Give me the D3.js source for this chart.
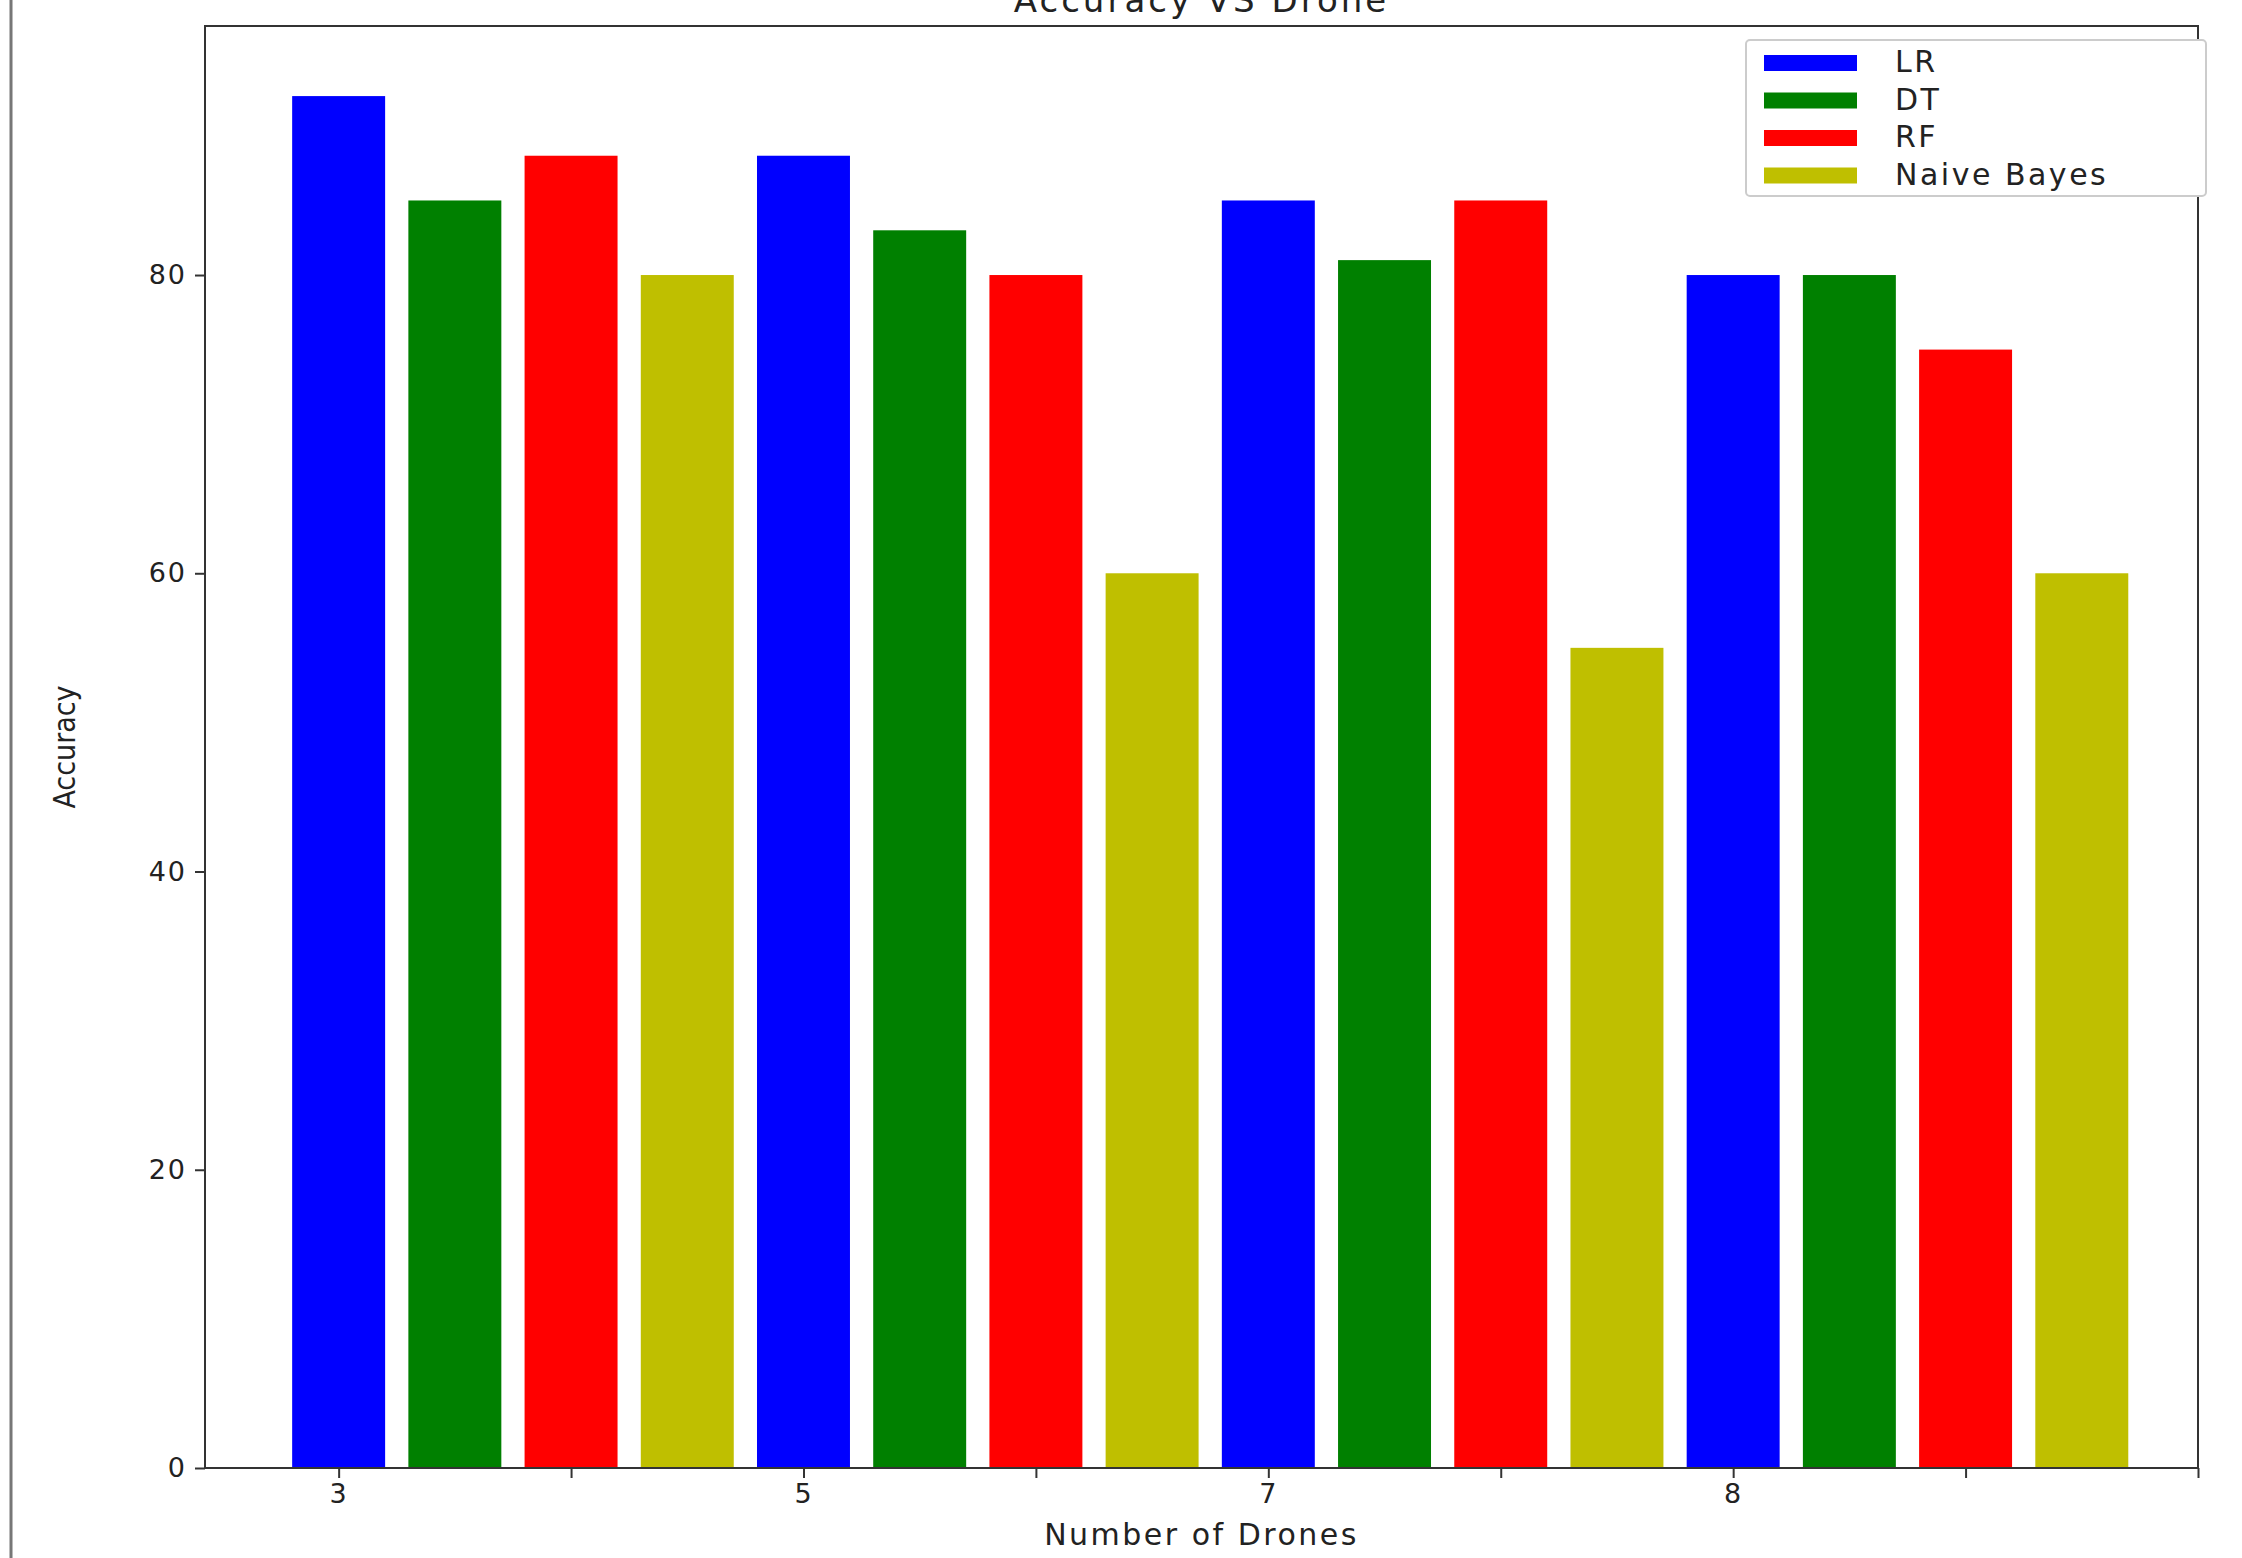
<!DOCTYPE html>
<html><head><meta charset="utf-8">
<script src="https://cdn.jsdelivr.net/npm/d3@7"></script>
<style>body{margin:0;background:#fff}text{font-family:"DejaVu Sans",sans-serif;fill:#222}</style>
</head><body><div id="chart"></div>
<script>
var tickLabels = ["3", "", "5", "", "7", "", "8", "", ""];
var seriesNames = ["LR", "DT", "RF", "Naive Bayes"];
var seriesColors = ["#0000ff", "#008000", "#ff0000", "#bfbf00"];
// one bar per slot, in drawing order LR, DT, RF, NB for each drone count
var barValues = [92, 85, 88, 80, 88, 83, 80, 60, 85, 81, 85, 55, 80, 80, 75, 60];

var svgWidth = 2242, svgHeight = 1558;
var margin = {top: 26, right: 44, bottom: 90, left: 205};
var width = svgWidth - margin.left - margin.right;
var height = svgHeight - margin.top - margin.bottom;

var svg = d3.select("#chart").append("svg")
  .attr("width", svgWidth).attr("height", svgHeight);

// figure frame on the left
svg.append("line").attr("x1", 11).attr("x2", 11).attr("y1", 0).attr("y2", svgHeight)
  .attr("stroke", "#777").attr("stroke-width", 3);

var chartGroup = svg.append("g")
  .attr("transform", `translate(${margin.left}, ${margin.top})`);

var x = d3.scaleLinear().domain([-1.15, 16]).range([0, width]);
var y = d3.scaleLinear().domain([0, 96.7]).range([height, 0]);

chartGroup.selectAll("rect.bar").data(barValues).enter().append("rect")
  .attr("class", "bar")
  .attr("x", (d, i) => x(i - 0.4))
  .attr("width", x(0.8) - x(0))
  .attr("y", d => y(d))
  .attr("height", d => height - y(d))
  .attr("fill", (d, i) => seriesColors[i % 4]);

var xAxis = d3.axisBottom(x).tickValues(d3.range(0, 17, 2))
  .tickFormat((d, i) => tickLabels[i]).tickSize(10).tickPadding(6);
var gx = chartGroup.append("g").attr("transform", `translate(0,${height})`).call(xAxis);
var yAxis = d3.axisLeft(y).tickValues([0, 20, 40, 60, 80]).tickSize(10).tickPadding(8);
var gy = chartGroup.append("g").call(yAxis);
[gx, gy].forEach(g => {
  g.select(".domain").remove();
  g.selectAll("line").attr("stroke", "#333").attr("stroke-width", 2);
  g.selectAll("text").style("font-size", "27px").style("letter-spacing", "2px").attr("fill", "#222");
});

chartGroup.append("rect").attr("width", width).attr("height", height)
  .attr("fill", "none").attr("stroke", "#333").attr("stroke-width", 2);

// title, partly cut off at the top as in the source
svg.append("text").attr("x", margin.left + width / 2).attr("y", 12)
  .attr("text-anchor", "middle").style("font-size", "34px").style("letter-spacing", "3px")
  .text("Accuracy VS Drone");

svg.append("text").attr("x", margin.left + width / 2).attr("y", 1545)
  .attr("text-anchor", "middle").style("font-size", "30px").style("letter-spacing", "2.5px")
  .text("Number of Drones");

svg.append("text").attr("transform", `translate(75, ${margin.top + height / 2}) rotate(-90)`)
  .attr("text-anchor", "middle").style("font-size", "30px")
  .style("font-family", "'Liberation Sans Narrow','DejaVu Sans Condensed',sans-serif")
  .text("Accuracy");

// legend
var legend = svg.append("g").attr("transform", "translate(1746, 40)");
legend.append("rect").attr("width", 460).attr("height", 156)
  .attr("fill", "#fff").attr("stroke", "#ccc").attr("stroke-width", 2).attr("rx", 4);
seriesNames.forEach((name, i) => {
  var row = legend.append("g").attr("transform", `translate(18, ${15 + i * 37.5})`);
  row.append("rect").attr("width", 93).attr("height", 16).attr("fill", seriesColors[i]);
  row.append("text").attr("x", 131).attr("y", 17).style("font-size", "30px")
    .style("letter-spacing", "2.5px").text(name);
});
</script></body></html>
